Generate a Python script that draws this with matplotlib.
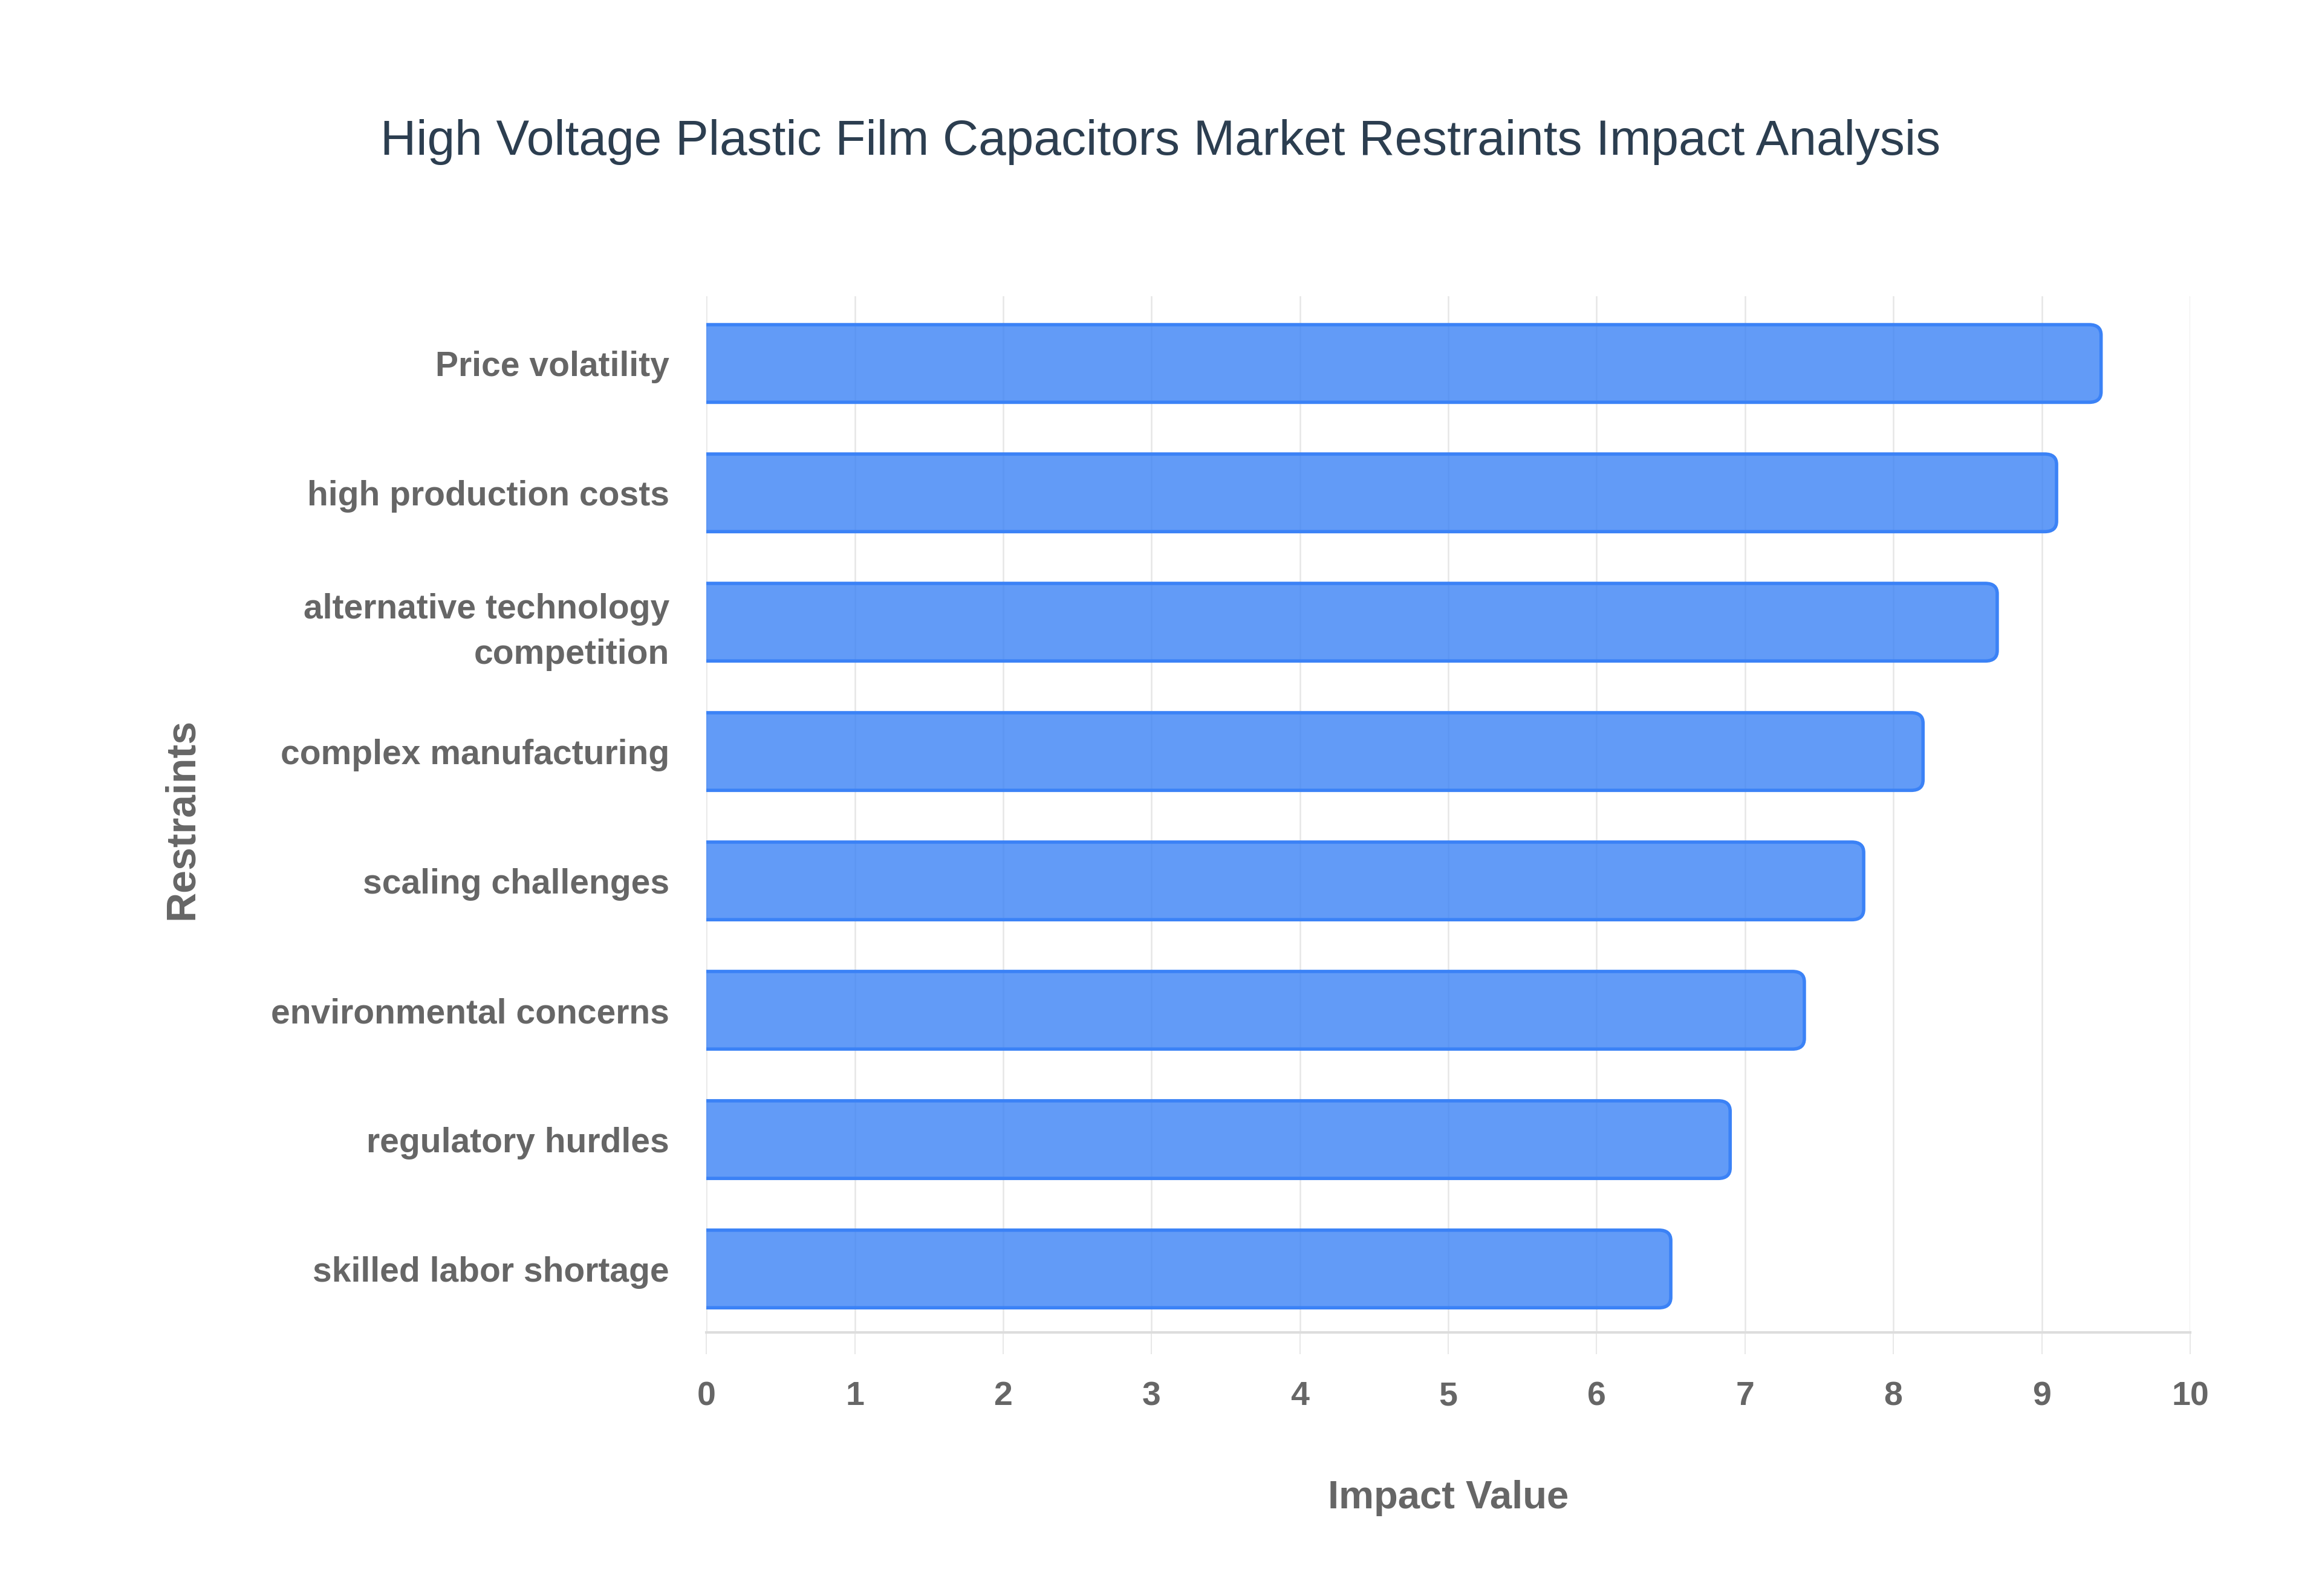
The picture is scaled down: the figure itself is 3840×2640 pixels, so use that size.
import matplotlib
matplotlib.use("Agg")
import matplotlib.pyplot as plt
from matplotlib.patches import FancyBboxPatch

categories = ["Price volatility", "high production costs",
              "alternative technology\ncompetition", "complex manufacturing",
              "scaling challenges", "environmental concerns",
              "regulatory hurdles", "skilled labor shortage"]
values = [9.4, 9.1, 8.7, 8.2, 7.8, 7.4, 6.9, 6.5]
x_ticks = [0, 1, 2, 3, 4, 5, 6, 7, 8, 9, 10]

title = "High Voltage Plastic Film Capacitors Market Restraints Impact Analysis"

fig = plt.figure(figsize=(38.4, 26.4), dpi=100)
ax = fig.add_axes([0.3042, 0.1652, 0.9432 - 0.3042, 0.8144 - 0.1652])

n = len(categories)
ypos = [n - 1 - i for i in range(n)]
bar_h = 0.6
ax.set_xlim(0, 10)
ax.set_ylim(-0.49, n - 0.48)

for y, v in zip(ypos, values):
    p = FancyBboxPatch((-0.3, y - bar_h / 2), v + 0.3, bar_h,
                       boxstyle="round,pad=0,rounding_size=0.08",
                       mutation_aspect=1.0,
                       facecolor="#3b82f6", alpha=0.8, edgecolor="none",
                       zorder=3)
    ax.add_patch(p)
    e = FancyBboxPatch((-0.3, y - bar_h / 2), v + 0.3, bar_h,
                       boxstyle="round,pad=0,rounding_size=0.08",
                       mutation_aspect=1.0,
                       facecolor="none", edgecolor="#3b82f6", linewidth=4,
                       zorder=4)
    ax.add_patch(e)

ax.set_yticks(ypos)
ax.set_yticklabels(categories, fontfamily="Liberation Sans", fontweight="bold",
                   fontsize=41, color="#666666", linespacing=1.5)
ax.set_xticks(x_ticks)
ax.set_xticklabels([str(t) for t in x_ticks], fontfamily="Liberation Sans",
                   fontweight="bold", fontsize=40, color="#666666")

ax.tick_params(axis="y", length=0, pad=44)
ax.tick_params(axis="x", length=26, width=1.5, color="#e8e8e8", pad=32)

ax.grid(axis="x", color="#e6e6e6", linewidth=1.8, zorder=0)
ax.set_axisbelow(True)
for s in ["top", "right", "left"]:
    ax.spines[s].set_visible(False)
ax.spines["bottom"].set_color("#dddddd")
ax.spines["bottom"].set_linewidth(3)

fig.text(0.4997, 0.911, title, ha="center", va="center",
         fontfamily="Liberation Sans", fontsize=59, color="#2c3e50")
fig.text(0.6237, 0.0614, "Impact Value", ha="center", va="center",
         fontfamily="Liberation Sans", fontweight="bold", fontsize=47,
         color="#666666")
fig.text(0.0784, 0.487, "Restraints", ha="center", va="center", rotation=90,
         fontfamily="Liberation Sans", fontweight="bold", fontsize=49,
         color="#666666")

fig.savefig("out.png", dpi=100, facecolor="white")
